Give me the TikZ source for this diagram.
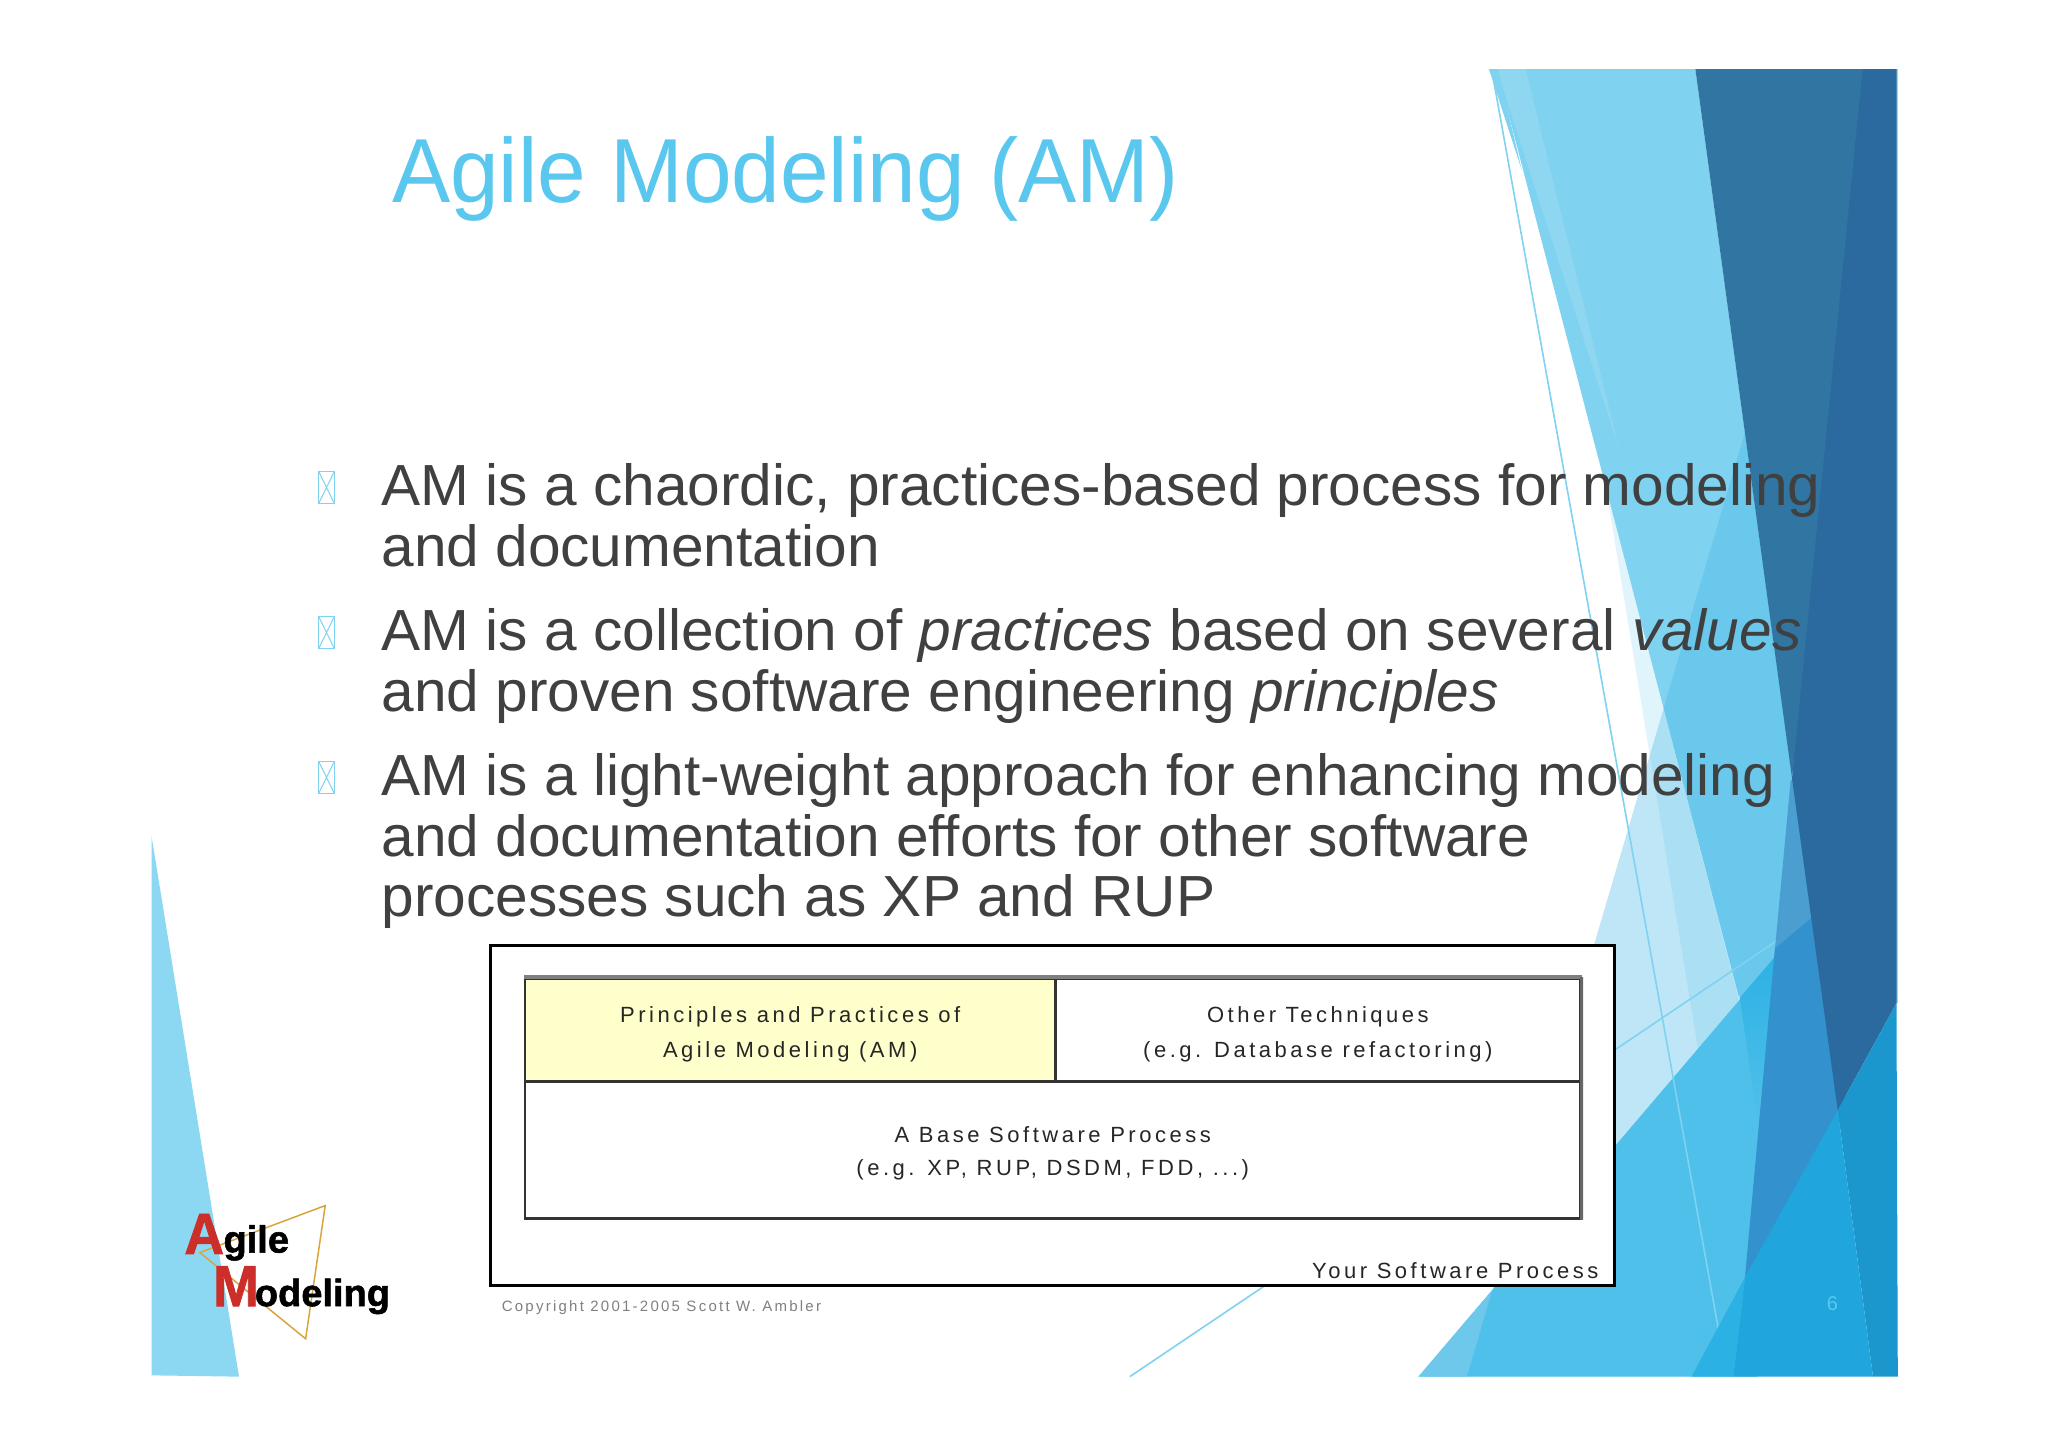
\documentclass[tikz,border=0pt]{standalone}
\usepackage{fontspec}
\setmainfont{Liberation Sans}
\newfontfamily\titlefont[FakeStretch=0.96]{Liberation Sans}
\newfontfamily\bodyfont[FakeStretch=1.01]{Liberation Sans}
\newfontfamily\cardfont[LetterSpace=16]{Liberation Sans}
\newfontfamily\notefont[LetterSpace=15]{Liberation Sans}
\newfontfamily\logofont[FakeBold=1.5]{Liberation Sans Bold}
\usetikzlibrary{positioning}
\definecolor{titleblue}{HTML}{5AC8EE}
\definecolor{bodygrey}{HTML}{404040}
\definecolor{paneltint}{HTML}{7FD2F0}
\definecolor{panelpale}{HTML}{8FD6F1}
\definecolor{overlayblue}{HTML}{3DB5E6}
\definecolor{diagblue}{HTML}{58C6ED}
\definecolor{diagpale}{HTML}{6DC8EC}
\definecolor{diagdeep}{HTML}{50C0EA}
\definecolor{steelblue}{HTML}{3176A3}
\definecolor{deepblue}{HTML}{2A6A9E}
\definecolor{stripblue}{HTML}{3391CE}
\definecolor{striplight}{HTML}{4A9FD0}
\definecolor{cornerbright}{HTML}{2CB1E4}
\definecolor{cornermid}{HTML}{20A5DC}
\definecolor{cornerdark}{HTML}{1C97CD}
\definecolor{sideblue}{HTML}{8CD8F3}
\definecolor{logogold}{HTML}{D8A43C}
\definecolor{logored}{HTML}{CC2E2A}
\definecolor{boxyellow}{HTML}{FFFFCC}

\begin{document}
\begin{tikzpicture}[
    x=1.306pt, y=-1.306pt,
    thinline/.style={draw=paneltint, line width=1.6pt},
    tofuline/.style={draw=paneltint, line width=1pt},
    bodytext/.style={anchor=base west, inner sep=0pt, align=left, text=bodygrey,
      font=\bodyfont\fontsize{58}{60.7}\selectfont},
    cardbox/.style={draw=black!80, line width=2.4pt, inner sep=0pt},
    cardtext/.style={inner sep=0pt, align=center, text=black!85,
      font=\cardfont\fontsize{22}{35}\selectfont},
    logobig/.style={inner sep=0pt, anchor=base west, text=logored, xscale=.95,
      font=\logofont\fontsize{58}{58}\selectfont},
    logosmall/.style={inner sep=0pt, anchor=base west, text=black,
      font=\logofont\fontsize{38}{38}\selectfont}
  ]

  \useasboundingbox (0,0) rectangle (1568,1108);
  \fill[white] (0,0) rectangle (1568,1108);

  \fill[sideblue] (116,640) -- (183,1054) -- (116,1053) -- cycle;

  \fill[panelpale] (1450,53) rectangle (1453,768);
  \fill[panelpale!28] (1229,370) -- (1300,803) -- (1340,800) -- cycle;
  \fill[paneltint] (1146,53) -- (1298,53) -- (1407,850) -- (1331,762) -- cycle;
  \fill[panelpale] (1146,53) -- (1168,53) -- (1240,345) -- cycle;
  \fill[paneltint] (1140,53) -- (1147,53) -- (1165,130) -- cycle;
  \fill[diagblue] (1086,1054) -- (1386,702) -- (1407,850) -- (1345,1054) -- cycle;
  \fill[overlayblue, opacity=.33] (1336,331) -- (1123,1054) -- (1345,1054) -- (1407,850) -- cycle;
  \fill[diagpale] (1086,1054) -- (1123,1054) -- (1142.5,987.7) -- cycle;

  \draw[thinline] (1142,53) -- (1322,1053);
  \draw[thinline] (865,1054) -- (1386,703);

  \shade[top color=cornerbright, bottom color=diagdeep] (1332,764) -- (1362,729) -- (1350,860) -- (1346,860) -- cycle;
  \fill[stripblue] (1359,725) -- (1388,700) -- (1415,850) -- (1336,978) -- cycle;
  \fill[striplight] (1371,597) -- (1390,600) -- (1390,700) -- (1359,726) -- cycle;

  \fill[deepblue] (1415,53) -- (1452,53) -- (1452,768) -- (1407,850) -- (1372,596) -- cycle;
  \fill[steelblue] (1298,53) -- (1426,53) -- (1372,596) -- cycle;

  \fill[cornerdark] (1407,850) -- (1452,768) -- (1453,1054) -- (1434,1054) -- cycle;
  \fill[cornermid] (1336,978) -- (1407,850) -- (1434,1054) -- (1327,1054) -- cycle;
  \fill[cornerbright] (1295,1054) -- (1336,978) -- (1327,1054) -- cycle;

  \node[anchor=base west, inner sep=0pt, text=titleblue,
    font=\titlefont\fontsize{91}{91}\selectfont] (title) at (300,155) {Agile Modeling (AM)};

  \foreach \y in {361,472,583} {
    \draw[tofuline] (244,\y) rectangle (256,\y+24.5);
    \draw[tofuline] (244,\y) -- (256,\y+24.5) (256,\y) -- (244,\y+24.5);
  }

  \node[bodytext] (itema) at (292,433.5) {AM is a chaordic, practices-based process for modeling\\and documentation};
  \node[bodytext] (itemb) at (292,544.5) {AM is a collection of \textit{practices} based on several \textit{values}\\and proven software engineering \textit{principles}};
  \node[bodytext] (itemc) at (292,702) {AM is a light-weight approach for enhancing modeling\\and documentation efforts for other software\\processes such as XP and RUP};

  \node[draw=black, line width=3pt, fill=white, minimum width=1124pt, minimum height=340pt,
    inner sep=0pt] (process) at (805.5,853.7) {};
  \node[cardbox, fill=boxyellow, minimum width=530pt, minimum height=103pt] (principles) at (605,788.5) {};
  \node[cardbox, minimum width=525pt, minimum height=103pt] (techniques) at (1009,788.5) {};
  \node[cardbox, minimum width=1055pt, minimum height=137pt] (base) at (806,880.5) {};
  \draw[black!50, line width=4pt] (principles.north west) -- (techniques.north east);
  \draw[black!60, line width=3pt] (techniques.north east) -- (base.south east);

  \node[cardtext] (principlestext) at (605,792) {Principles and Practices of\\Agile Modeling (AM)};
  \node[cardtext] (techniquestext) at (1009,792) {Other Techniques\\(e.g. Database refactoring)};
  \node[cardtext, font=\cardfont\fontsize{22}{33}\selectfont] (basetext) at (806,883) {A Base Software Process\\(e.g. XP, RUP, DSDM, FDD, ...)};
  \node[anchor=east, inner sep=0pt, text=black!85, font=\cardfont\fontsize{22}{22}\selectfont] (yours) at (1224,973)
    {Your Software Process};
  \node[anchor=west, inner sep=0pt, text=black!50, font=\notefont\fontsize{15}{15}\selectfont] (copyright) at (384,1001)
    {Copyright 2001-2005 Scott W. Ambler};
  \node[inner sep=0pt, text=titleblue, font=\fontsize{20}{20}\selectfont] (pageno) at (1403,998) {6};

  \draw[logogold, line width=1.5pt] (249,923) -- (234,1025) -- (153,959) -- cycle;
  \node[logobig] (logoa) at (141,960) {A};
  \node[logosmall] (logoagile) at (171,959) {gile};
  \node[logobig] (logom) at (163,1000) {M};
  \node[logosmall] (logomodeling) at (195,1000) {odeling};

\end{tikzpicture}
\end{document}
